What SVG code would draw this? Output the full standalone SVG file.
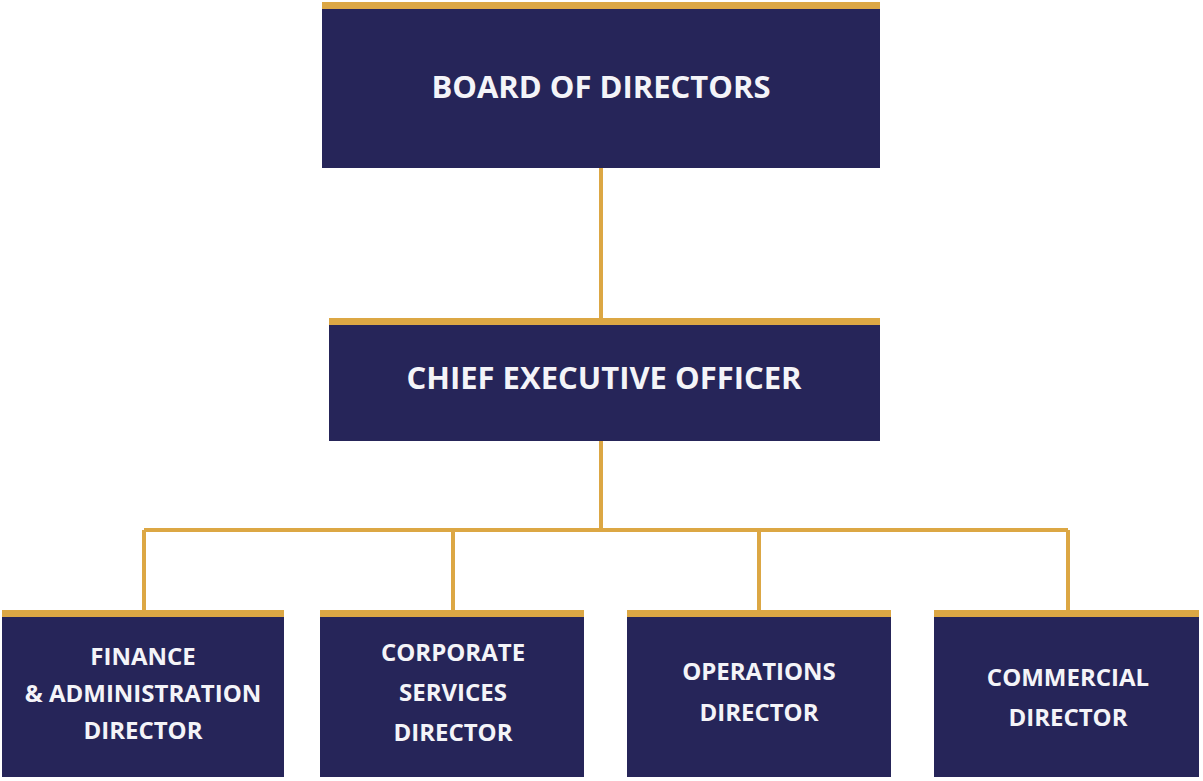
<svg xmlns="http://www.w3.org/2000/svg" width="1203" height="781" viewBox="0 0 1203 781">
<style>
.box{fill:#262559}
.band{fill:#DCA744}
.t{fill:#F4F4F8;font-family:"Open Sans","Liberation Sans",sans-serif;font-weight:bold;text-anchor:middle}
.big{font-size:31px}
.sm{font-size:24px}
.c{stroke:#DCA744;stroke-width:4;fill:none}
</style>
<rect width="1203" height="781" fill="#fff"/>
<g id="connectors">
<path class="c" d="M601 168V318M601 441V530M144 530H1068M144 530V610M453 530V610M759 530V610M1068 530V610"/>
</g>
<g id="board"><rect class="box" x="322" y="2" width="558" height="166"/><rect class="band" x="322" y="2" width="558" height="7"/><text class="t big" x="601" y="98">BOARD OF DIRECTORS</text></g>
<g id="ceo"><rect class="box" x="329" y="318" width="551" height="123"/><rect class="band" x="329" y="318" width="551" height="7"/><text class="t big" x="604" y="389">CHIEF EXECUTIVE OFFICER</text></g>
<g id="finance"><rect class="box" x="2" y="610" width="282" height="167"/><rect class="band" x="2" y="610" width="282" height="7"/><text class="t sm" x="143" y="665">FINANCE</text><text class="t sm" x="143" y="702">&amp; ADMINISTRATION</text><text class="t sm" x="143" y="739">DIRECTOR</text></g>
<g id="corporate"><rect class="box" x="320" y="610" width="264" height="167"/><rect class="band" x="320" y="610" width="264" height="7"/><text class="t sm" x="453" y="661">CORPORATE</text><text class="t sm" x="453" y="701">SERVICES</text><text class="t sm" x="453" y="741">DIRECTOR</text></g>
<g id="operations"><rect class="box" x="627" y="610" width="264" height="167"/><rect class="band" x="627" y="610" width="264" height="7"/><text class="t sm" x="759" y="680">OPERATIONS</text><text class="t sm" x="759" y="721">DIRECTOR</text></g>
<g id="commercial"><rect class="box" x="934" y="610" width="265" height="167"/><rect class="band" x="934" y="610" width="265" height="7"/><text class="t sm" x="1068" y="686">COMMERCIAL</text><text class="t sm" x="1068" y="726">DIRECTOR</text></g>
</svg>
